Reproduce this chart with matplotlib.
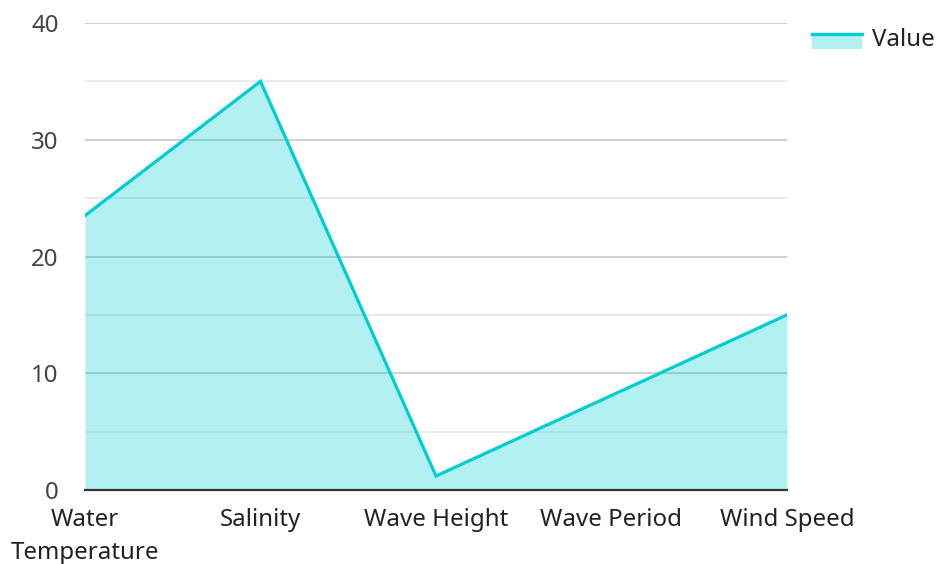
import matplotlib
matplotlib.use("Agg")
import matplotlib.pyplot as plt
from matplotlib.patches import Rectangle
from matplotlib.lines import Line2D
from matplotlib.legend_handler import HandlerBase

plt.rcParams['font.family'] = ['Noto Sans', 'DejaVu Sans']

categories = ["Water\nTemperature", "Salinity", "Wave Height", "Wave Period", "Wind Speed"]
values = [23.5, 35.0, 1.2, 8.1, 15.0]
series_name = "Value"
y_ticks = [0, 10, 20, 30, 40]

line_color = "#00CED1"
fill_alpha = 0.3
font_size = 17.3


class AreaHandler(HandlerBase):
    """Legend key: translucent block with the series line along its top edge."""
    def create_artists(self, legend, orig_handle, xdescent, ydescent,
                       width, height, fontsize, trans):
        y0 = -ydescent - 3.0
        rect = Rectangle((-xdescent, y0), width, height,
                         facecolor=line_color, alpha=fill_alpha,
                         edgecolor="none", transform=trans)
        top = Line2D([-xdescent, -xdescent + width],
                     [y0 + height, y0 + height],
                     color=line_color, linewidth=2.4, transform=trans)
        return [rect, top]


fig = plt.figure(figsize=(9.37, 5.64), dpi=100)
ax = fig.add_axes([85 / 937, 1 - 490 / 564, (787 - 85) / 937, (490 - 23) / 564])

x = list(range(len(categories)))
ax.fill_between(x, values, 0, color=line_color, alpha=fill_alpha,
                linewidth=0, zorder=2)
ax.plot(x, values, color=line_color, linewidth=2.3, zorder=3,
        solid_joinstyle="miter")

ax.set_xlim(0, len(categories) - 1)
ax.set_ylim(0, 40)
ax.set_yticks(y_ticks)
ax.set_yticks([5, 15, 25, 35], minor=True)
ax.grid(axis="y", which="major", color="#c8c8c8", linewidth=1.2, zorder=1)
ax.grid(axis="y", which="minor", color="#e8e8e8", linewidth=1.2, zorder=1)
ax.set_axisbelow(True)

ax.set_xticks(x)
ax.set_xticklabels(categories, fontsize=font_size, color="#222222", linespacing=1.5)
ax.tick_params(axis="x", length=0, pad=13)
ax.tick_params(axis="y", which="both", length=0, pad=19, labelsize=font_size,
               labelcolor="#444444")

for side in ("top", "right", "left"):
    ax.spines[side].set_visible(False)
ax.spines["bottom"].set_color("#333333")
ax.spines["bottom"].set_linewidth(1.6)
ax.spines["bottom"].set_zorder(4)

handle = Rectangle((0, 0), 1, 1)
fig.legend([handle], [series_name], handler_map={Rectangle: AreaHandler()},
           loc="upper left", bbox_to_anchor=(790 / 937, 1 - 6 / 564),
           frameon=False, fontsize=font_size, handlelength=2.1, handleheight=0.62,
           handletextpad=0.4, labelcolor="#222222")

fig.savefig("out.png", dpi=100)
